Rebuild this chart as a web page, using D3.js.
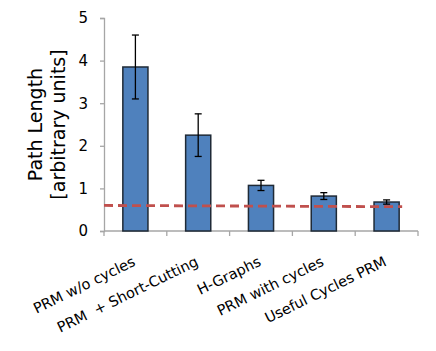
<!DOCTYPE html>
<html>
<head>
<meta charset="utf-8">
<script src="https://cdn.jsdelivr.net/npm/d3@7"></script>
<style>
  body { margin: 0; background: #fff; }
  text { font-family: "DejaVu Sans", Verdana, sans-serif; fill: #000; }
</style>
</head>
<body>
<script>
var w = 436;
var h = 351;

// data
var categories = ["PRM w/o cycles", "PRM  + Short-Cutting", "H-Graphs", "PRM with cycles", "Useful Cycles PRM"];
var values = [3.85, 2.25, 1.07, 0.82, 0.68];
var errors = [0.75, 0.5, 0.12, 0.08, 0.05];
var refLine = [0.6, 0.57]; // dashed line, left and right end
var yTicks = [0, 1, 2, 3, 4, 5];

var margin = {left: 104, right: 18, top: 18, bottom: 120};

var svg = d3.select("body")
            .append("svg")
            .attr("width", w)
            .attr("height", h);

var xscale = d3.scaleBand()
               .domain(categories)
               .range([margin.left, w - margin.right])
               .paddingInner(0.6)
               .paddingOuter(0.3);

var yscale = d3.scaleLinear()
               .domain([0, 5])
               .range([h - margin.bottom, margin.top]);

// y axis
var yAxis = svg.append("g")
               .attr("transform", "translate(" + margin.left + ",0)")
               .call(d3.axisLeft(yscale).tickValues(yTicks).tickFormat(d3.format("d")).tickSize(4).tickPadding(12));
yAxis.attr("font-family", null).attr("font-size", null);
yAxis.selectAll("text").style("font-size", "15px");

// x axis with ticks between categories
var step = xscale.step();
var xAxis = svg.append("g")
               .attr("transform", "translate(0," + yscale(0) + ")");
xAxis.append("line")
     .attr("x1", margin.left).attr("x2", w - margin.right)
     .attr("y1", 0).attr("y2", 0);
xAxis.selectAll(".xt")
     .data(d3.range(categories.length + 1))
     .enter()
     .append("line")
     .attr("class", "xt")
     .attr("x1", function(d) { return margin.left + d * step; })
     .attr("x2", function(d) { return margin.left + d * step; })
     .attr("y1", 0).attr("y2", 5);

svg.selectAll(".domain, .tick line, g line").attr("stroke", "#a6a6a6").attr("stroke-width", 1.3);

// bars
svg.selectAll("rect.bar")
   .data(values)
   .enter()
   .append("rect")
   .attr("class", "bar")
   .attr("x", function(d, i) { return xscale(categories[i]); })
   .attr("y", function(d) { return yscale(d); })
   .attr("width", xscale.bandwidth())
   .attr("height", function(d) { return yscale(0) - yscale(d); })
   .attr("fill", "#4f81bd")
   .attr("stroke", "#1f2a36")
   .attr("stroke-width", 1.5);

// error bars
var eb = svg.selectAll("g.err")
            .data(values)
            .enter()
            .append("g")
            .attr("class", "err")
            .attr("stroke", "#000")
            .attr("stroke-width", 1.3);
eb.append("line")
  .attr("x1", function(d, i) { return xscale(categories[i]) + xscale.bandwidth() / 2; })
  .attr("x2", function(d, i) { return xscale(categories[i]) + xscale.bandwidth() / 2; })
  .attr("y1", function(d, i) { return yscale(d + errors[i]); })
  .attr("y2", function(d, i) { return yscale(d - errors[i]); });
[1, -1].forEach(function(s) {
  eb.append("line")
    .attr("x1", function(d, i) { return xscale(categories[i]) + xscale.bandwidth() / 2 - 3.5; })
    .attr("x2", function(d, i) { return xscale(categories[i]) + xscale.bandwidth() / 2 + 3.5; })
    .attr("y1", function(d, i) { return yscale(d + s * errors[i]); })
    .attr("y2", function(d, i) { return yscale(d + s * errors[i]); });
});

// dashed reference line
svg.append("line")
   .attr("x1", margin.left)
   .attr("x2", xscale(categories[4]) + xscale.bandwidth() + 3)
   .attr("y1", yscale(refLine[0]))
   .attr("y2", yscale(refLine[1]))
   .attr("stroke", "#c0504d")
   .attr("stroke-width", 2.8)
   .attr("stroke-dasharray", "9,5");

// category labels
svg.selectAll("text.cat")
   .data(categories)
   .enter()
   .append("text")
   .attr("class", "cat")
   .attr("text-anchor", "end")
   .attr("xml:space", "preserve")
   .attr("transform", function(d) {
       return "translate(" + (xscale(d) + xscale.bandwidth() / 2 + 1) + "," + (yscale(0) + 34) + ") rotate(-26)";
   })
   .style("font-size", "14.5px")
   .text(function(d) { return d; });

// y title
var title = svg.append("text")
   .attr("transform", "translate(0," + ((yscale(0) + yscale(5)) / 2) + ") rotate(-90)")
   .attr("text-anchor", "middle")
   .style("font-size", "19px");
title.append("tspan").attr("x", 0).attr("y", 42).text("Path Length");
title.append("tspan").attr("x", 0).attr("y", 65).text("[arbitrary units]");
</script>
</body>
</html>
